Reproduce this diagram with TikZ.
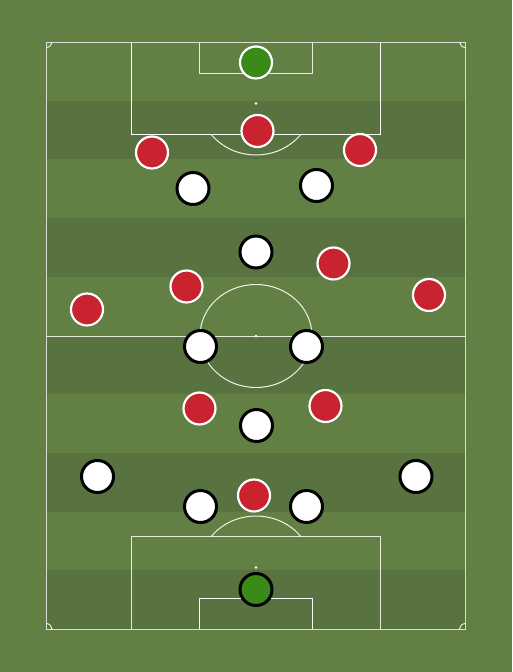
\documentclass[tikz,border=0pt]{standalone}
\definecolor{grassL}{RGB}{99,128,68}
\definecolor{grassD}{RGB}{89,115,64}
\definecolor{redp}{RGB}{200,35,46}
\definecolor{gkgreen}{RGB}{58,138,24}
\tikzset{
  pline/.style={draw=white, line width=1},
  pbase/.style={circle, inner sep=0pt, minimum size=32, line width=2.2,
    preaction={fill=black, fill opacity=0.25, transform canvas={shift={(0.8pt,-1.2pt)}}}},
  redplayer/.style={pbase, fill=redp, draw=white},
  whiteplayer/.style={pbase, fill=white, draw=black, line width=3, minimum size=32},
  gktop/.style={pbase, fill=gkgreen, draw=white},
  gkbot/.style={pbase, fill=gkgreen, draw=black, line width=3, minimum size=32},
}
\begin{document}
\begin{tikzpicture}[x=1pt,y=-1pt]
\useasboundingbox (0,0) rectangle (512,672);
\fill[grassL] (0,0) rectangle (512,672);
% stripes
\foreach \k in {1,3,5,7,9} {
  \fill[grassD] (46,{42+\k*58.7}) rectangle (465.5,{42+(\k+1)*58.7});
}
% outer lines
\draw[pline, draw opacity=0.75] (46,42) rectangle (465.5,629);
\draw[pline, draw opacity=0.85] (46,336) -- (465.5,336);
% centre circle and spot
\draw[pline, draw opacity=0.9] (256,336) ellipse [x radius=56, y radius=51.5];
\fill[white] (256,336) circle (1.3);
% top penalty area
\draw[pline] (131,42) -- (131,134.5) -- (380.5,134.5) -- (380.5,42);
\draw[pline, draw opacity=0.85] (199.5,42) -- (199.5,73) -- (312.5,73) -- (312.5,42);
\fill[white] (256,103.5) circle (1.3);
\begin{scope}
  \clip (131,134.5) rectangle (381,170);
  \draw[pline, draw opacity=0.9] (256,103.5) ellipse [x radius=56, y radius=51.5];
\end{scope}
% bottom penalty area
\draw[pline, draw opacity=0.85] (131,629) -- (131,536) -- (380.5,536) -- (380.5,629);
\draw[pline] (199.5,629) -- (199.5,598) -- (312.5,598) -- (312.5,629);
\fill[white] (256,567.5) circle (1.3);
\begin{scope}
  \clip (131,536) rectangle (381,500);
  \draw[pline, draw opacity=0.9] (256,567.5) ellipse [x radius=56, y radius=51.5];
\end{scope}
% corner arcs
\begin{scope}
  \clip (46,42) rectangle (465.5,629);
  \foreach \cx/\cy in {46/42, 465.5/42, 46/629, 465.5/629} {
    \draw[pline, draw opacity=0.85] (\cx,\cy) ellipse [x radius=6, y radius=5.5];
  }
\end{scope}
% goalkeepers
\node[gktop] (gk1) at (256,62.5) {};
\node[gkbot] (gk2) at (256,589.5) {};
% red team
\node[redplayer] (r1) at (257.5,131) {};
\node[redplayer] (r2) at (152,152.5) {};
\node[redplayer] (r3) at (360,150) {};
\node[redplayer] (r4) at (333.5,263.5) {};
\node[redplayer] (r5) at (186.5,286.5) {};
\node[redplayer] (r6) at (87,309.5) {};
\node[redplayer] (r7) at (429,295) {};
\node[redplayer] (r8) at (199.5,408.5) {};
\node[redplayer] (r9) at (325.5,406) {};
\node[redplayer] (r10) at (254,495.5) {};
% white team
\node[whiteplayer] (w1) at (193,188.5) {};
\node[whiteplayer] (w2) at (316.5,185.5) {};
\node[whiteplayer] (w3) at (256,252) {};
\node[whiteplayer] (w4) at (200.5,346.5) {};
\node[whiteplayer] (w5) at (306.5,346.5) {};
\node[whiteplayer] (w6) at (256.5,425.5) {};
\node[whiteplayer] (w7) at (97.5,476.5) {};
\node[whiteplayer] (w8) at (416,476.5) {};
\node[whiteplayer] (w9) at (200.5,506.5) {};
\node[whiteplayer] (w10) at (306.5,506.5) {};
\end{tikzpicture}
\end{document}
